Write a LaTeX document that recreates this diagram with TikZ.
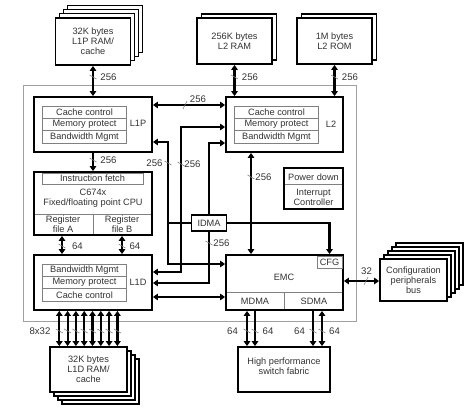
\documentclass[tikz,border=0pt]{standalone}
\usepackage{fontspec}
\setmainfont{Liberation Sans}
\usetikzlibrary{arrows.meta}
\definecolor{txt}{HTML}{333333}
\definecolor{tbl}{HTML}{808080}
\definecolor{framec}{HTML}{A0A0A0}
\begin{document}
\begin{tikzpicture}[x=1pt,y=-1pt,
  lbl/.style={font=\fontsize{9.2}{10}\selectfont, text=txt, align=center, inner sep=0pt},
  num/.style={font=\fontsize{9.6}{10}\selectfont, text=txt, inner sep=0pt},
  blk/.style={draw=black, line width=1.8pt, fill=white, inner sep=0pt, lbl},
  back/.style={draw=black, line width=1.1pt, fill=white},
  row/.style={draw=tbl, line width=0.7pt, minimum width=84pt, minimum height=12.3pt, inner sep=0pt, lbl},
  thin/.style={draw=tbl, line width=0.7pt},
  con/.style={line width=2.2pt, draw=black},
  dbl/.style={con, {Triangle[length=5pt,width=6.5pt]}-{Triangle[length=5pt,width=6.5pt]}},
  sgl/.style={con, -{Triangle[length=5pt,width=6.5pt]}},
  slash/.style={draw=gray, line width=0.6pt},
  vs/.pic={\draw[slash] (-3.5,-2) -- (3.5,2);},
  hs/.pic={\draw[slash] (-2,4) -- (2,-4);}
]
\useasboundingbox (0,0) rectangle (474,412);

% frame of the megamodule
\draw[draw=framec, line width=0.8pt] (23,85) rectangle (356,321);

% ---------- external memories ----------
\foreach \k in {3,2,1} \draw[back] ({55+4.3*\k},{18-4.3*\k}) rectangle +(75,47);
\node[blk, minimum width=75pt, minimum height=47pt] (L1PRAM) at (93,41.5) {32K bytes\\L1P RAM/\\cache};

\draw[back] (201.5,14) rectangle +(75,46);
\node[blk, minimum width=75pt, minimum height=46pt] (L2RAM) at (234.5,41) {256K bytes\\L2 RAM};

\draw[back] (301.5,14) rectangle +(75,46);
\node[blk, minimum width=75pt, minimum height=46pt] (L2ROM) at (334.5,41) {1M bytes\\L2 ROM};

% ---------- L1P ----------
\node[blk, minimum width=118pt, minimum height=55pt] (L1P) at (93,124.5) {};
\node[row] (L1Pr1) at (84.5,112.2) {Cache control};
\node[row] (L1Pr2) at (84.5,124.5) {Memory protect};
\node[row] (L1Pr3) at (84.5,136.8) {Bandwidth Mgmt};
\node[lbl] (L1Pt) at (138,123.5) {L1P};

% ---------- L2 ----------
\node[blk, minimum width=117pt, minimum height=55pt] (L2) at (284.5,124.5) {};
\node[row] (L2r1) at (276.5,112.2) {Cache control};
\node[row] (L2r2) at (276.5,124.5) {Memory protect};
\node[row] (L2r3) at (276.5,136.8) {Bandwidth Mgmt};
\node[lbl] (L2t) at (331,124) {L2};

% ---------- CPU ----------
\node[blk, minimum width=118pt, minimum height=63pt] (CPU) at (93,203.5) {};
\node[thin, lbl, minimum width=101pt, minimum height=11pt] (IF) at (92.5,178.7) {Instruction fetch};
\node[lbl] (CPUt) at (93,198) {C674x\\Fixed/floating point CPU};
\draw[thin] (34.9,214) -- (151.1,214) (93,214) -- (93,234.1);
\node[lbl] (RFA) at (63,224) {Register\\file A};
\node[lbl] (RFB) at (122,224) {Register\\file B};

% ---------- L1D ----------
\node[blk, minimum width=118pt, minimum height=55pt] (L1D) at (93,282.5) {};
\node[row] (L1Dr1) at (84.5,270.2) {Bandwidth Mgmt};
\node[row] (L1Dr2) at (84.5,282.5) {Memory protect};
\node[row] (L1Dr3) at (84.5,294.8) {Cache control};
\node[lbl] (L1Dt) at (138,282) {L1D};

% ---------- EMC ----------
\node[blk, minimum width=117pt, minimum height=55pt] (EMC) at (284.5,282.5) {};
\node[thin, lbl, minimum width=25pt, minimum height=12.4pt] (CFG) at (329.5,262.2) {CFG};
\node[lbl] (EMCt) at (284,277) {EMC};
\draw[thin] (226.9,292) -- (342.1,292) (284,292) -- (284,309.1);
\node[lbl] (MDMA) at (255,301) {MDMA};
\node[lbl] (SDMA) at (314,301) {SDMA};

% ---------- Power down ----------
\node[blk, minimum width=59pt, minimum height=41pt] (PWR) at (313.5,188.5) {};
\draw[thin] (284.9,184) -- (342.1,184);
\node[lbl] (PWRa) at (313.5,177) {Power down};
\node[lbl] (PWRb) at (313.5,197) {Interrupt\\Controller};

% ---------- IDMA ----------
\node[blk, minimum width=35pt, minimum height=16pt] (IDMA) at (209,223) {IDMA};

% ---------- L1D RAM ----------
\foreach \k in {3,2,1} \draw[back] ({50+4*\k},{347+4*\k}) rectangle +(77,45);
\node[blk, minimum width=77pt, minimum height=45pt] (L1DRAM) at (88.5,369.5) {32K bytes\\L1D RAM/\\cache};

% ---------- switch fabric ----------
\node[blk, minimum width=92pt, minimum height=45pt] (FAB) at (284,369.5) {};
\node[lbl] (FABt) at (284,366) {High performance\\switch fabric};

% ---------- configuration bus ----------
\foreach \k in {4,3,2,1} \draw[back] ({380+4*\k},{259-4*\k}) rectangle +(67,42);
\node[blk, minimum width=67pt, minimum height=42pt] (CONF) at (413.5,280) {Configuration\\peripherals\\bus};

% ---------- connectors ----------
\coordinate (A1) at (168,142); \coordinate (A2) at (168,264);
\coordinate (B1) at (181,127); \coordinate (B2) at (181,272);
\coordinate (C1) at (209,143); \coordinate (C2) at (209,283);
\coordinate (r105) at (0,105); \coordinate (r297) at (0,297); \coordinate (r281) at (0,281);
\coordinate (v251) at (251,0); \coordinate (v62) at (62,0); \coordinate (v122) at (122,0);
\coordinate (f1) at (247,0); \coordinate (f2) at (255,0);
\coordinate (f3) at (313,0); \coordinate (f4) at (322,0);

\draw[dbl] (L1PRAM.south) -- (L1PRAM.south |- L1P.north);
\draw[dbl] (L2RAM.south) -- (L2RAM.south |- L2.north);
\draw[dbl] (L2ROM.south) -- (L2ROM.south |- L2.north);
\draw[dbl] (L1P.east |- r105) -- (L2.west |- r105);
\draw[sgl] (L1P.south) -- (CPU.north);
\draw[dbl] (CPU.south -| v62) -- (L1D.north -| v62);
\draw[dbl] (CPU.south -| v122) -- (L1D.north -| v122);
\draw[dbl] (L1P.east |- A1) -- (A1) -- (A2) -- (EMC.west |- A2);
\draw[dbl] (L2.west |- B1) -- (B1) -- (B2) -- (L1D.east |- B2);
\draw[sgl] (IDMA.north) -- (C1) -- (L2.west |- C1);
\draw[sgl] (IDMA.south) -- (C2) -- (L1D.east |- C2);
\draw[con] (IDMA.west) -- (IDMA.west -| A1);
\draw[sgl] (IDMA.east) -| (CFG.north |- EMC.north);
\draw[dbl] (L2.south -| v251) -- (EMC.north -| v251);
\draw[dbl] (L1D.east |- r297) -- (EMC.west |- r297);
\draw[dbl] (EMC.east |- r281) -- (CONF.west |- r281);
\foreach \i in {0,...,7} {
  \coordinate (m\i) at ({59.3+8.3*\i},0);
  \draw[dbl] (L1D.south -| m\i) -- (L1DRAM.north -| m\i);
  \pic at ({59.3+8.3*\i},331) {vs};
}
\draw[dbl] (EMC.south -| f1) -- (FAB.north -| f1);
\draw[sgl] (EMC.south -| f2) -- (FAB.north -| f2);
\draw[sgl] (EMC.south -| f3) -- (FAB.north -| f3);
\draw[dbl] (EMC.south -| f4) -- (FAB.north -| f4);

% ---------- bus widths ----------
\pic at (93,77) {vs};     \node[num] (w1) at (108.5,77) {256};
\pic at (234.5,77) {vs};  \node[num] (w2) at (250,77) {256};
\pic at (334.5,77) {vs};  \node[num] (w3) at (350,77) {256};
\pic at (185,105) {hs};   \node[num] (w4) at (198,99) {256};
\pic at (93,160) {vs};    \node[num] (w5) at (108.5,160) {256};
\pic at (168,163) {vs};   \node[num] (w6) at (154.5,163) {256};
\pic at (181,164) {vs};   \node[num] (w7) at (192.5,164) {256};
\pic at (251,177) {vs};   \node[num] (w8) at (263.5,177) {256};
\pic at (209,243) {vs};   \node[num] (w9) at (221.5,243) {256};
\pic at (62,246) {vs};    \node[num] (w10) at (77.5,246) {64};
\pic at (122,246) {vs};   \node[num] (w11) at (135,246) {64};
\node[num] (w12) at (40,331) {8x32};
\pic at (366,281) {hs};   \node[num] (w13) at (366.5,271) {32};
\pic at (247,331) {vs}; \pic at (255,331) {vs};
\pic at (313,331) {vs}; \pic at (322,331) {vs};
\node[num] (w14) at (232.5,331) {64};
\node[num] (w15) at (268,331) {64};
\node[num] (w16) at (299.5,331) {64};
\node[num] (w17) at (334.5,331) {64};
\end{tikzpicture}
\end{document}
